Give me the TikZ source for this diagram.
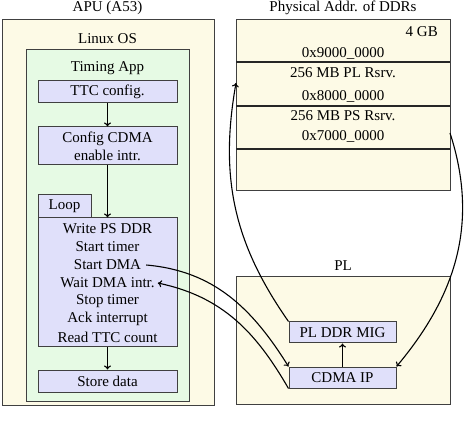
\documentclass[tikz,border=0pt]{standalone}
\usepackage{fontspec}
\setmainfont{Liberation Serif}
\usetikzlibrary{arrows.meta}
\definecolor{creamc}{RGB}{253,250,230}
\definecolor{greenc}{RGB}{230,250,228}
\definecolor{bluec}{RGB}{224,224,250}
\begin{document}
\begin{tikzpicture}[x=1pt,y=-1pt,
  every node/.style={font=\fontsize{15}{18}\selectfont},
  frame/.style={draw=black!75,line width=1pt,rectangle,inner sep=0pt},
  creambox/.style={frame,fill=creamc},
  greenbox/.style={frame,fill=greenc},
  bluebox/.style={frame,fill=bluec,align=center},
  txt/.style={inner sep=2pt},
  conn/.style={-{To[length=4pt,width=7pt]},line width=1.1pt,black}]
\useasboundingbox (0,0) rectangle (474,430);
\fill[white] (0,0) rectangle (474,430);
% APU side
\node[txt] (apul) at (107.5,8) {APU (A53)};
\node[creambox,minimum width=212pt,minimum height=385pt] (apu) at (108,212.5) {};
\node[txt] (linux) at (107.5,39) {Linux OS};
\node[greenbox,minimum width=163pt,minimum height=351pt] (app) at (107.5,225.5) {};
\node[txt] (timl) at (107.5,68) {Timing App};
\node[bluebox,minimum width=139pt,minimum height=22pt] (ttc) at (107.5,92) {TTC config.};
\node[bluebox,minimum width=139pt,minimum height=38pt] (cfg) at (107.5,146) {Config CDMA\\enable intr.};
\node[bluebox,minimum width=53pt,minimum height=23pt] (loopl) at (64.5,206.5) {Loop};
\node[bluebox,minimum width=139pt,minimum height=129pt] (loopbox) at (107.5,282.5) {};
\node[bluebox,minimum width=139pt,minimum height=22pt] (store) at (107.5,381) {Store data};
\node[txt] (l1) at (107.5,229) {Write PS DDR};
\node[txt] (l2) at (107.5,247) {Start timer};
\node[txt] (l3) at (107.5,265) {Start DMA};
\node[txt] (l4) at (107.5,283) {Wait DMA intr.};
\node[txt] (l5) at (107.5,301) {Stop timer};
\node[txt] (l6) at (107.5,319) {Ack interrupt};
\node[txt] (l7) at (107.5,337) {Read TTC count};
\draw[conn] (ttc) -- (cfg);
\draw[conn] (cfg.south) -- (loopbox.north);
\draw[conn] (loopbox) -- (store);
% Physical address map
\node[txt] (physl) at (343,8) {Physical Addr. of DDRs};
\node[creambox,minimum width=214pt,minimum height=171pt] (phys) at (343,105.5) {};
\draw[line width=1.4pt,black!85] (236,62) -- (450,62);
\draw[line width=1.4pt,black!85] (236,106) -- (450,106);
\draw[line width=1.4pt,black!85] (236,149) -- (450,149);
\node[txt,anchor=east] (gb) at (440,32) {4 GB};
\node[txt] (a9) at (343,53) {0x9000\_0000};
\node[txt] (plr) at (343,73) {256 MB PL Rsrv.};
\node[txt] (a8) at (343,96) {0x8000\_0000};
\node[txt] (psr) at (343,116) {256 MB PS Rsrv.};
\node[txt] (a7) at (343,136) {0x7000\_0000};
\coordinate (plin) at (236,83);
\coordinate (psout) at (450,133);
% PL
\node[txt] (pll) at (343,266) {PL};
\node[creambox,minimum width=214pt,minimum height=127pt] (pl) at (343,340.5) {};
\node[bluebox,minimum width=107pt,minimum height=21pt] (mig) at (342.5,332.5) {PL DDR MIG};
\node[bluebox,minimum width=107pt,minimum height=21pt] (cdma) at (342.5,377.5) {CDMA IP};
\draw[conn] (cdma) -- (mig);
% connectors
\draw[conn] ([xshift=3pt]l3.east) to[out=-5,in=122] (cdma.north west);
\draw[conn] (cdma.south west) to[out=120,in=-12] ([xshift=1pt]l4.east);
\draw[conn] (mig.north west) to[out=125,in=-100] (plin);
\draw[conn] (psout) to[out=-72,in=50] (cdma.north east);
\end{tikzpicture}
\end{document}
